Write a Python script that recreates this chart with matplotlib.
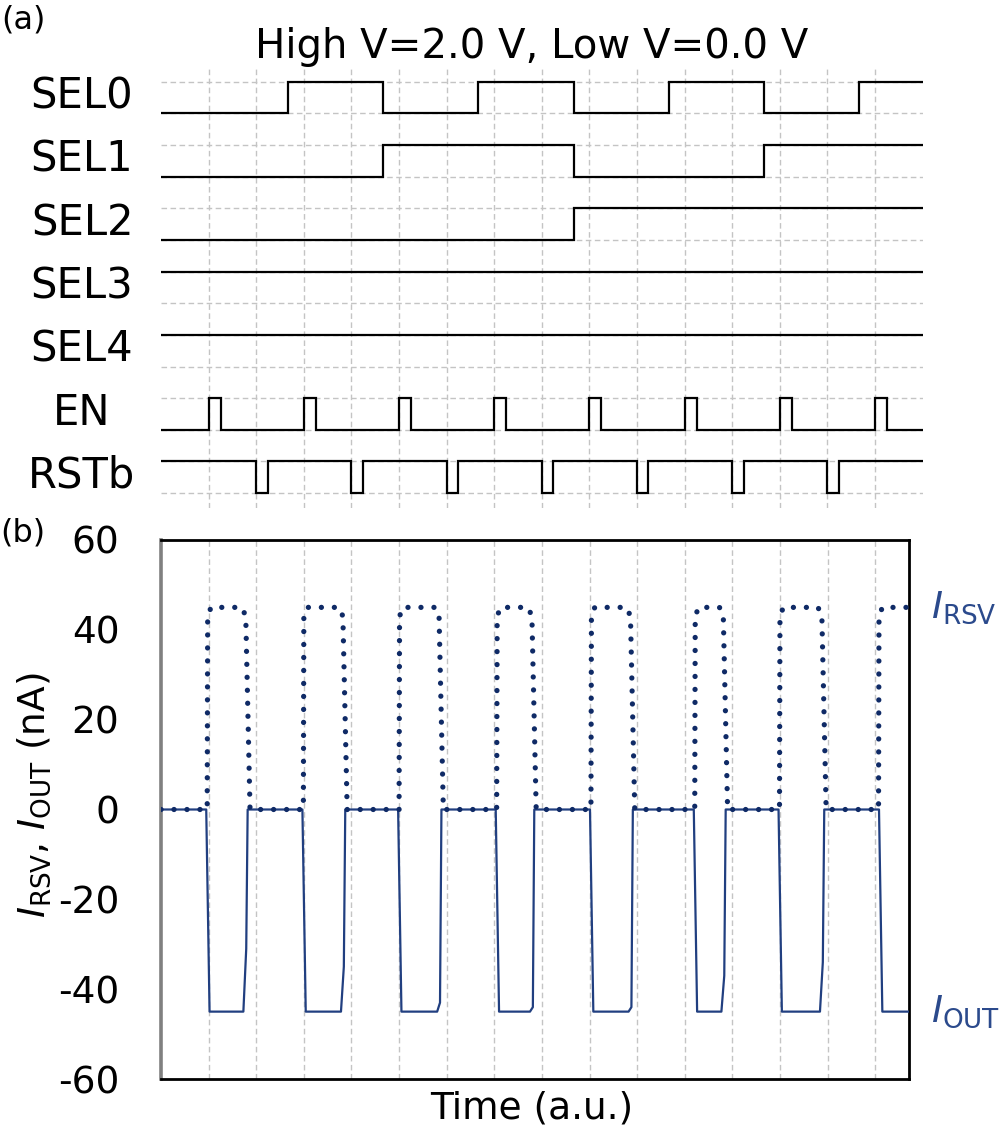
import numpy as np
import matplotlib.pyplot as plt
from matplotlib.transforms import blended_transform_factory

plt.rcParams['font.family'] = ['DejaVu Sans']
plt.rcParams['mathtext.fontset'] = 'dejavusans'
plt.rcParams['axes.unicode_minus'] = False

# (a) senales digitales, tiempo en unidades de la grilla
nombres = ['SEL0', 'SEL1', 'SEL2', 'SEL3', 'SEL4', 'EN', 'RSTb']
nivel_inicial = [0, 0, 0, 1, 1, 0, 1]
flancos = [
    [2.67, 4.67, 6.67, 8.67, 10.67, 12.67, 14.67],
    [4.67, 8.67, 12.67],
    [8.67],
    [],
    [],
    [1.0, 1.25, 3.0, 3.25, 5.0, 5.25, 7.0, 7.25, 9.0, 9.25, 11.0, 11.25,
     13.0, 13.25, 15.0, 15.25],
    [2.0, 2.24, 4.0, 4.24, 6.0, 6.24, 8.0, 8.24, 10.0, 10.24, 12.0, 12.24,
     14.0, 14.24],
]
t_fin_a = 16.0

# (b) corrientes (nA)
irsv_sube = [0.97, 2.99, 5.00, 7.05, 9.03, 11.21, 12.99, 15.07]
irsv_baja = [1.87, 3.91, 5.93, 7.88, 9.95, 11.90, 13.97]
iout_baja = [0.95, 2.97, 4.98, 7.03, 9.01, 11.19, 12.97, 15.08]
iout_sube = [1.73, 3.78, 5.80, 7.75, 9.82, 11.77, 13.84]
iout_escalon = [-31, -35, -43, -44, -44, -37, -34]
i_alto = 45
i_bajo = -45
t_fin_b = 15.71

azul_pts = '#0f2a66'
azul_lin = '#213f80'
azul_txt = '#2b4a8c'
gris = '#c4c4c4'


def escalon(inicial, bordes, t_fin):
    t = [0.0]
    v = [inicial]
    nivel = inicial
    for b in bordes:
        t += [b, b]
        v += [nivel, 1 - nivel]
        nivel = 1 - nivel
    t.append(t_fin)
    v.append(nivel)
    return t, v


fig = plt.figure(figsize=(10.08, 11.4), dpi=100)

#%% panel (a)
ax1 = fig.add_axes([161 / 1008, 1 - 508 / 1140, 761.6 / 1008, 442 / 1140])
ax1.set_xlim(0, t_fin_a)
ax1.set_ylim(-12.47, 1.5)
ax1.axis('off')
for x in range(1, 16):
    ax1.axvline(x, color=gris, lw=1, ls=(0, (4, 2.5)), zorder=1)
for i, nombre in enumerate(nombres):
    base = -2 * i
    ax1.axhline(base, color=gris, lw=1, ls=(0, (4, 2.5)), zorder=1)
    ax1.axhline(base + 1, color=gris, lw=1, ls=(0, (4, 2.5)), zorder=1)
    t, v = escalon(nivel_inicial[i], flancos[i], t_fin_a)
    ax1.plot(t, np.array(v) + base, color='black', lw=1.6, zorder=3,
             solid_joinstyle='miter')
    fig.text(82 / 1008, 1 - (81.7 + 31.6 * 2 * i + 15) / 1140, nombre,
             fontsize=30, ha='center', va='center')

fig.text(532 / 1008, 1 - 47 / 1140, 'High V=2.0 V, Low V=0.0 V',
         fontsize=29, ha='center', va='center')
fig.text(23 / 1008, 1 - 20 / 1140, '(a)', fontsize=23, ha='center', va='center')
fig.text(23 / 1008, 1 - 533 / 1140, '(b)', fontsize=23, ha='center', va='center')

#%% panel (b)
ax2 = fig.add_axes([161 / 1008, 1 - 1079 / 1140, 748 / 1008, 539 / 1140])
ax2.set_xlim(0, t_fin_b)
ax2.set_ylim(-60, 60)
ax2.set_xticks(range(1, 16))
ax2.set_xticklabels([])
ax2.set_yticks([-60, -40, -20, 0, 20, 40, 60])
ax2.tick_params(axis='y', length=0, labelsize=27, pad=30)
ax2.tick_params(axis='x', length=0, pad=0)
ax2.grid(axis='x', color=gris, lw=1, ls=(0, (4, 2.5)))
ax2.set_axisbelow(True)
for lado in ['top', 'right', 'bottom']:
    ax2.spines[lado].set_linewidth(2)
ax2.spines['left'].set_color('#808080')
ax2.spines['left'].set_linewidth(2.6)

# I_OUT
t_out = [0.0]
v_out = [0.0]
for k, tb in enumerate(iout_baja):
    t_out += [tb, tb + 0.07]
    v_out += [0, i_bajo]
    if k < len(iout_sube):
        tu = iout_sube[k]
        t_out += [tu, tu + 0.06, tu + 0.09]
        v_out += [i_bajo, iout_escalon[k], 0]
t_out.append(t_fin_b)
v_out.append(v_out[-1])
ax2.plot(t_out, v_out, color=azul_lin, lw=1.6, zorder=3)

# I_RSV
t_rsv = [0.0]
v_rsv = [0.0]
for k, ts in enumerate(irsv_sube):
    t_rsv += [ts, ts + 0.01, ts + 0.08]
    v_rsv += [0, i_alto - 2, i_alto]
    if k < len(irsv_baja):
        te = irsv_baja[k]
        t_rsv += [te - 0.17, te - 0.09, te]
        v_rsv += [i_alto, i_alto - 2, 0]
t_rsv.append(t_fin_b)
v_rsv.append(v_rsv[-1])
ax2.plot(t_rsv, v_rsv, color=azul_pts, lw=3.8, ls=(0, (0.01, 2.45)),
         dash_capstyle='round', zorder=4)

mezcla = blended_transform_factory(ax2.transAxes, ax2.transData)
ax2.text(1.03, i_alto, r'$I_{\rm RSV}$', transform=mezcla, fontsize=27,
         color=azul_txt, ha='left', va='center')
ax2.text(1.03, i_bajo, r'$I_{\rm OUT}$', transform=mezcla, fontsize=27,
         color=azul_txt, ha='left', va='center')

fig.text(532 / 1008, 1 - 1108 / 1140, 'Time (a.u.)', fontsize=27,
         ha='center', va='center')
fig.text(34 / 1008, 1 - 795 / 1140, r'$I_{\rm RSV}$, $I_{\rm OUT}$ (nA)',
         fontsize=27, rotation=90, ha='center', va='center')

fig.savefig('out.png', dpi=100)
